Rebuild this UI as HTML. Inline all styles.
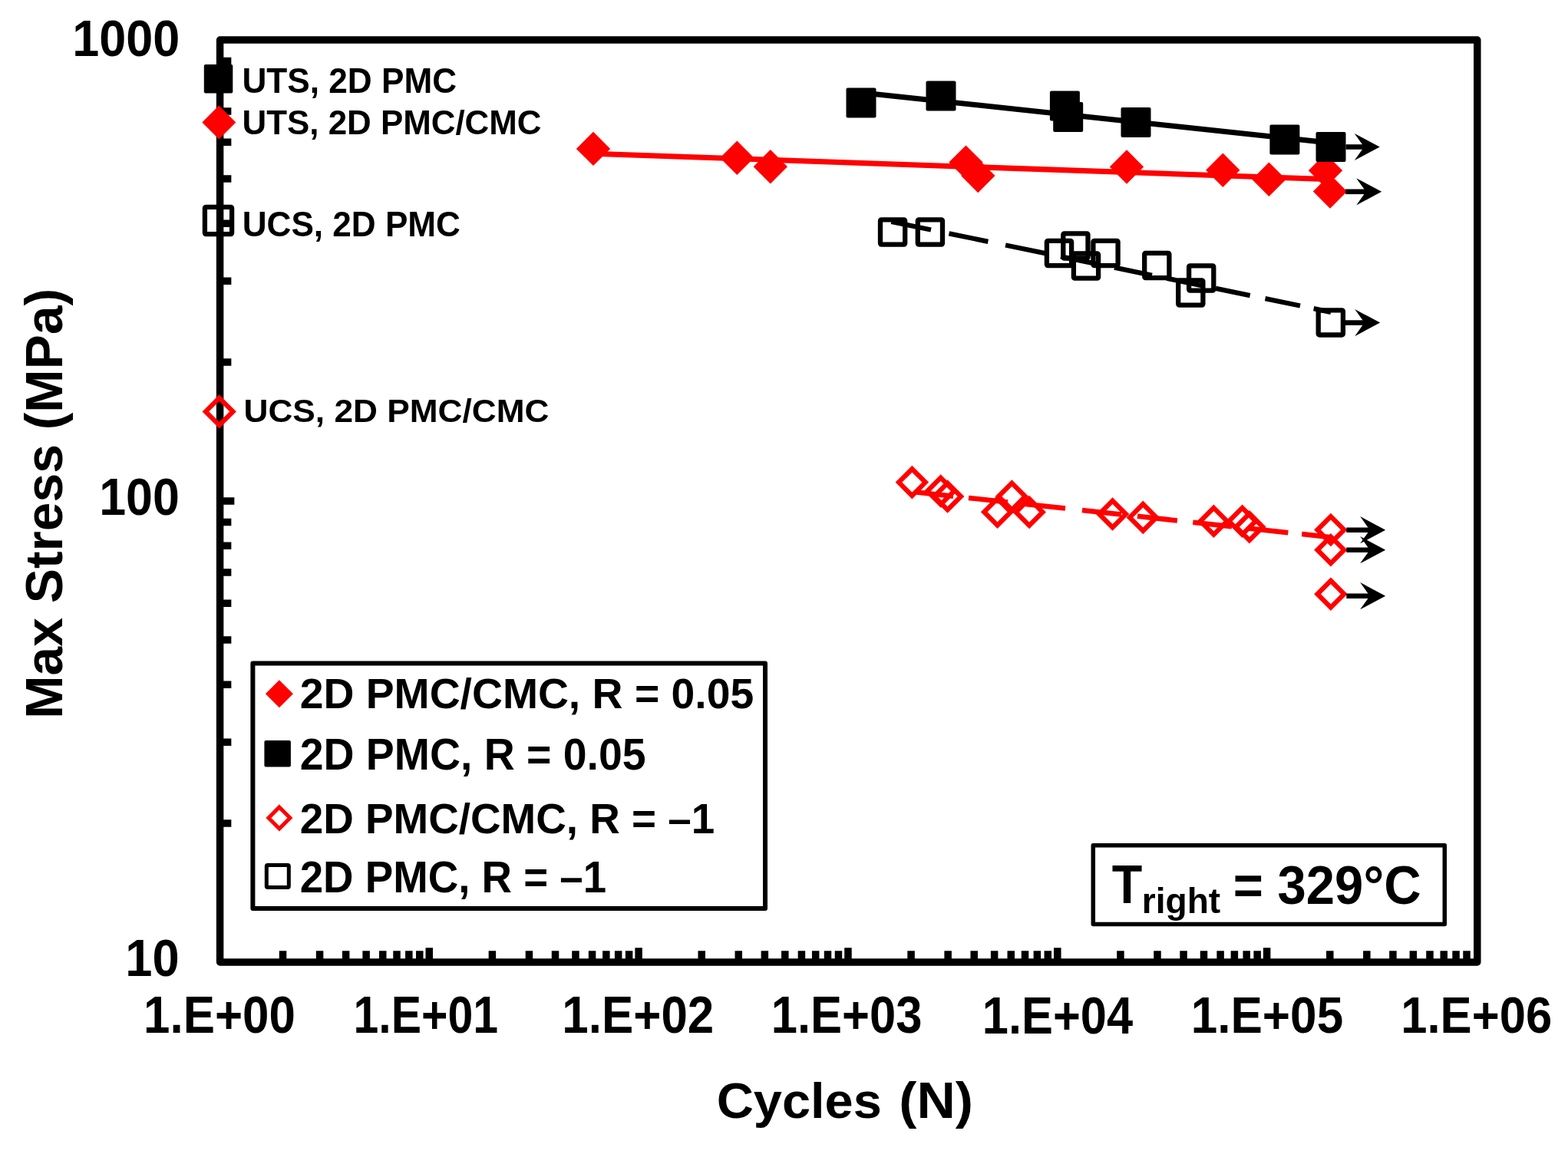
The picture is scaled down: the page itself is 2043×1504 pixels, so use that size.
<!DOCTYPE html>
<html><head><meta charset="utf-8"><title>S-N chart</title>
<style>
html,body{margin:0;padding:0;background:#fff;}
body{width:2043px;height:1504px;overflow:hidden;}
svg{display:block;}
</style></head><body>
<svg width="2043" height="1504" viewBox="0 0 2043 1504">
<rect width="2043" height="1504" fill="#fff"/>
<rect x="286.6" y="52.0" width="1638.20" height="1202.00" fill="none" stroke="#000" stroke-width="9.5" stroke-linejoin="round"/>
<path d="M286.6,1073.08H301.35M286.6,967.25H301.35M286.6,892.16H301.35M286.6,833.92H301.35M286.6,786.33H301.35M286.6,746.10H301.35M286.6,711.24H301.35M286.6,680.50H301.35M286.6,472.08H301.35M286.6,366.25H301.35M286.6,291.16H301.35M286.6,232.92H301.35M286.6,185.33H301.35M286.6,145.10H301.35M286.6,110.24H301.35M286.6,79.50H301.35M368.54,1254.0V1239.25M416.58,1254.0V1239.25M450.67,1254.0V1239.25M477.11,1254.0V1239.25M498.72,1254.0V1239.25M516.99,1254.0V1239.25M532.81,1254.0V1239.25M546.77,1254.0V1239.25M641.39,1254.0V1239.25M689.43,1254.0V1239.25M723.52,1254.0V1239.25M749.96,1254.0V1239.25M771.57,1254.0V1239.25M789.84,1254.0V1239.25M805.66,1254.0V1239.25M819.62,1254.0V1239.25M914.24,1254.0V1239.25M962.28,1254.0V1239.25M996.37,1254.0V1239.25M1022.81,1254.0V1239.25M1044.42,1254.0V1239.25M1062.69,1254.0V1239.25M1078.51,1254.0V1239.25M1092.47,1254.0V1239.25M1187.09,1254.0V1239.25M1235.13,1254.0V1239.25M1269.22,1254.0V1239.25M1295.66,1254.0V1239.25M1317.27,1254.0V1239.25M1335.54,1254.0V1239.25M1351.36,1254.0V1239.25M1365.32,1254.0V1239.25M1459.94,1254.0V1239.25M1507.98,1254.0V1239.25M1542.07,1254.0V1239.25M1568.51,1254.0V1239.25M1590.12,1254.0V1239.25M1608.39,1254.0V1239.25M1624.21,1254.0V1239.25M1638.17,1254.0V1239.25M1732.79,1254.0V1239.25M1780.83,1254.0V1239.25M1814.92,1254.0V1239.25M1841.36,1254.0V1239.25M1862.97,1254.0V1239.25M1881.24,1254.0V1239.25M1897.06,1254.0V1239.25M1911.02,1254.0V1239.25" stroke="#000" stroke-width="9.5" fill="none"/>
<path d="M286.6,653.00H305.35M559.25,1254.0V1235.25M832.10,1254.0V1235.25M1104.95,1254.0V1235.25M1377.80,1254.0V1235.25M1650.65,1254.0V1235.25" stroke="#000" stroke-width="9.5" fill="none"/>
<path d="M773,200.3L1734,233.8" stroke="#ff0000" stroke-width="7" fill="none"/>
<path d="M1122,120.7L1734,186.3" stroke="#000" stroke-width="7" fill="none"/>
<path d="M1161.3,288.8L1213.0,299.5M1236.5,304.3L1287.4,314.8M1310.1,319.5L1361.8,330.1M1382.0,334.3L1432.0,344.6M1452.0,348.7L1501.0,358.8M1520.0,362.7L1568.0,372.6M1584.0,375.9L1628.7,385.1M1648.5,389.2L1694.0,398.5M1711.7,402.2L1734.0,406.8" stroke="#000" stroke-width="6.3" fill="none"/>
<path d="M1192.0,641.3L1242.0,646.8M1262.0,648.9L1313.0,654.5M1336.0,657.0L1388.0,662.6M1410.0,665.0L1461.0,670.6M1482.0,672.8L1533.9,678.5M1554.3,680.7L1605.0,686.2M1626.0,688.5L1678.3,694.2M1696.2,696.1L1734.0,700.2" stroke="#ff0000" stroke-width="6.5" fill="none"/>
<rect x="1147.0" y="286.4" width="32.2" height="32.2" rx="1.5" fill="none" stroke="#000" stroke-width="6.3"/>
<rect x="1195.8" y="286.4" width="32.2" height="32.2" rx="1.5" fill="none" stroke="#000" stroke-width="6.3"/>
<rect x="1363.9" y="313.9" width="32.2" height="32.2" rx="1.5" fill="none" stroke="#000" stroke-width="6.3"/>
<rect x="1385.3" y="304.4" width="32.2" height="32.2" rx="1.5" fill="none" stroke="#000" stroke-width="6.3"/>
<rect x="1398.9" y="330.5" width="32.2" height="32.2" rx="1.5" fill="none" stroke="#000" stroke-width="6.3"/>
<rect x="1424.4" y="313.9" width="32.2" height="32.2" rx="1.5" fill="none" stroke="#000" stroke-width="6.3"/>
<rect x="1491.2" y="329.9" width="32.2" height="32.2" rx="1.5" fill="none" stroke="#000" stroke-width="6.3"/>
<rect x="1549.1" y="346.4" width="32.2" height="32.2" rx="1.5" fill="none" stroke="#000" stroke-width="6.3"/>
<rect x="1535.2" y="365.4" width="32.2" height="32.2" rx="1.5" fill="none" stroke="#000" stroke-width="6.3"/>
<rect x="1717.7" y="404.3" width="32.2" height="32.2" rx="1.5" fill="none" stroke="#000" stroke-width="6.3"/>
<path d="M1188.4,611.2L1205.8,628.6L1188.4,646.0L1171.0,628.6Z" fill="none" stroke="#ff0000" stroke-width="6.2" stroke-linejoin="miter"/>
<path d="M1225.7,622.6L1243.1,640.0L1225.7,657.4L1208.3,640.0Z" fill="none" stroke="#ff0000" stroke-width="6.2" stroke-linejoin="miter"/>
<path d="M1234.6,629.6L1252.0,647.0L1234.6,664.4L1217.2,647.0Z" fill="none" stroke="#ff0000" stroke-width="6.2" stroke-linejoin="miter"/>
<path d="M1299.6,649.9L1317.0,667.3L1299.6,684.7L1282.2,667.3Z" fill="none" stroke="#ff0000" stroke-width="6.2" stroke-linejoin="miter"/>
<path d="M1318.4,629.6L1335.8,647.0L1318.4,664.4L1301.0,647.0Z" fill="none" stroke="#ff0000" stroke-width="6.2" stroke-linejoin="miter"/>
<path d="M1341.1,650.1L1358.5,667.5L1341.1,684.9L1323.7,667.5Z" fill="none" stroke="#ff0000" stroke-width="6.2" stroke-linejoin="miter"/>
<path d="M1449.6,652.6L1467.0,670.0L1449.6,687.4L1432.2,670.0Z" fill="none" stroke="#ff0000" stroke-width="6.2" stroke-linejoin="miter"/>
<path d="M1489.3,657.0L1506.7,674.4L1489.3,691.8L1471.9,674.4Z" fill="none" stroke="#ff0000" stroke-width="6.2" stroke-linejoin="miter"/>
<path d="M1581.4,661.9L1598.8,679.3L1581.4,696.7L1564.0,679.3Z" fill="none" stroke="#ff0000" stroke-width="6.2" stroke-linejoin="miter"/>
<path d="M1618.6,661.9L1636.0,679.3L1618.6,696.7L1601.2,679.3Z" fill="none" stroke="#ff0000" stroke-width="6.2" stroke-linejoin="miter"/>
<path d="M1627.9,669.3L1645.3,686.7L1627.9,704.1L1610.5,686.7Z" fill="none" stroke="#ff0000" stroke-width="6.2" stroke-linejoin="miter"/>
<path d="M1733.9,673.1L1751.3,690.5L1733.9,707.9L1716.5,690.5Z" fill="none" stroke="#ff0000" stroke-width="6.2" stroke-linejoin="miter"/>
<path d="M1733.9,699.4L1751.3,716.8L1733.9,734.2L1716.5,716.8Z" fill="none" stroke="#ff0000" stroke-width="6.2" stroke-linejoin="miter"/>
<path d="M1733.9,756.8L1751.3,774.2L1733.9,791.6L1716.5,774.2Z" fill="none" stroke="#ff0000" stroke-width="6.2" stroke-linejoin="miter"/>
<path d="M773.0,171.7L795.2,193.9L773.0,216.1L750.8,193.9Z" fill="#ff0000"/>
<path d="M960.3,183.6L982.5,205.8L960.3,228.0L938.1,205.8Z" fill="#ff0000"/>
<path d="M1003.8,195.1L1026.0,217.3L1003.8,239.5L981.6,217.3Z" fill="#ff0000"/>
<path d="M1258.5,189.4L1280.7,211.6L1258.5,233.8L1236.3,211.6Z" fill="#ff0000"/>
<path d="M1274.3,206.8L1296.5,229.0L1274.3,251.2L1252.1,229.0Z" fill="#ff0000"/>
<path d="M1468.0,195.3L1490.2,217.5L1468.0,239.7L1445.8,217.5Z" fill="#ff0000"/>
<path d="M1593.3,199.5L1615.5,221.7L1593.3,243.9L1571.1,221.7Z" fill="#ff0000"/>
<path d="M1653.4,211.6L1675.6,233.8L1653.4,256.0L1631.2,233.8Z" fill="#ff0000"/>
<path d="M1727.0,200.1L1749.2,222.3L1727.0,244.5L1704.8,222.3Z" fill="#ff0000"/>
<path d="M1733.0,227.3L1755.2,249.5L1733.0,271.7L1710.8,249.5Z" fill="#ff0000"/>
<rect x="1102.5" y="114.5" width="39" height="39" rx="2" fill="#000"/>
<rect x="1206.5" y="105.4" width="39" height="39" rx="2" fill="#000"/>
<rect x="1367.9" y="118.5" width="39" height="39" rx="2" fill="#000"/>
<rect x="1372.2" y="133.0" width="39" height="39" rx="2" fill="#000"/>
<rect x="1460.5" y="140.1" width="39" height="39" rx="2" fill="#000"/>
<rect x="1654.4" y="162.6" width="39" height="39" rx="2" fill="#000"/>
<rect x="1714.5" y="172.1" width="39" height="39" rx="2" fill="#000"/>
<path d="M1753.5,191.5H1779.8" stroke="#000" stroke-width="6.6" fill="none"/><path d="M1797.8,191.5L1764.8,173.9L1777.3,191.5L1764.8,209.1Z" fill="#000"/>
<path d="M1753.1,249.8H1782.2" stroke="#000" stroke-width="6.6" fill="none"/><path d="M1800.2,249.8L1767.2,232.2L1779.7,249.8L1767.2,267.4Z" fill="#000"/>
<path d="M1752.8,420.6H1780.2" stroke="#000" stroke-width="6.6" fill="none"/><path d="M1798.2,420.6L1765.2,403.0L1777.7,420.6L1765.2,438.2Z" fill="#000"/>
<path d="M1754.3,690.7H1787.2" stroke="#000" stroke-width="6.6" fill="none"/><path d="M1805.2,690.7L1772.2,673.1L1784.7,690.7L1772.2,708.3Z" fill="#000"/>
<path d="M1754.3,716.7H1787.2" stroke="#000" stroke-width="6.6" fill="none"/><path d="M1805.2,716.7L1772.2,699.1L1784.7,716.7L1772.2,734.3Z" fill="#000"/>
<path d="M1754.3,776.7H1787.2" stroke="#000" stroke-width="6.6" fill="none"/><path d="M1805.2,776.7L1772.2,759.1L1784.7,776.7L1772.2,794.3Z" fill="#000"/>
<rect x="265.8" y="84.0" width="37.5" height="37.5" rx="2" fill="#000"/>
<path d="M285.3,137.4L307.3,159.4L285.3,181.4L263.3,159.4Z" fill="#ff0000"/>
<rect x="266.9" y="269.9" width="35.2" height="35.2" rx="1.5" fill="none" stroke="#000" stroke-width="6.3"/>
<path d="M285.7,518.6L303.5,536.4L285.7,554.2L267.9,536.4Z" fill="none" stroke="#ff0000" stroke-width="6.2" stroke-linejoin="miter"/>
<rect x="329.4" y="864.4" width="667.6" height="319.6" fill="#fff" stroke="#000" stroke-width="6" stroke-linejoin="round"/>
<path d="M363.9,886.3L381.9,904.3L363.9,922.3L345.9,904.3Z" fill="#ff0000"/>
<rect x="344.4" y="965.0" width="34.5" height="34.5" rx="2" fill="#000"/>
<path d="M363.9,1051.9L377.9,1065.9L363.9,1079.9L349.9,1065.9Z" fill="none" stroke="#ff0000" stroke-width="5" stroke-linejoin="miter"/>
<rect x="347.3" y="1127.4" width="29.0" height="29.0" rx="1.5" fill="none" stroke="#000" stroke-width="5"/>
<rect x="1424.3" y="1101.8" width="458" height="102.8" fill="#fff" stroke="#000" stroke-width="5.5" stroke-linejoin="round"/>
<text font-family="'Liberation Sans', Arial, sans-serif" font-weight="bold" font-size="62.93" transform="translate(94.32,73.30) scale(1,1.0559)">1000</text>
<text font-family="'Liberation Sans', Arial, sans-serif" font-weight="bold" font-size="62.73" transform="translate(129.21,671.48) scale(1,1.0823)">100</text>
<text font-family="'Liberation Sans', Arial, sans-serif" font-weight="bold" font-size="63.27" transform="translate(163.29,1272.18) scale(1,1.0730)">10</text>
<text font-family="'Liberation Sans', Arial, sans-serif" font-weight="bold" font-size="61.84" transform="translate(187.07,1346.16) scale(1,1.1135)">1.E+00</text>
<text font-family="'Liberation Sans', Arial, sans-serif" font-weight="bold" font-size="58.95" transform="translate(460.56,1346.16) scale(1,1.1681)">1.E+01</text>
<text font-family="'Liberation Sans', Arial, sans-serif" font-weight="bold" font-size="61.91" transform="translate(732.36,1346.16) scale(1,1.1123)">1.E+02</text>
<text font-family="'Liberation Sans', Arial, sans-serif" font-weight="bold" font-size="61.52" transform="translate(1004.69,1346.16) scale(1,1.1194)">1.E+03</text>
<text font-family="'Liberation Sans', Arial, sans-serif" font-weight="bold" font-size="61.41" transform="translate(1279.79,1346.87) scale(1,1.1080)">1.E+04</text>
<text font-family="'Liberation Sans', Arial, sans-serif" font-weight="bold" font-size="62.10" transform="translate(1551.66,1346.29) scale(1,1.0853)">1.E+05</text>
<text font-family="'Liberation Sans', Arial, sans-serif" font-weight="bold" font-size="61.58" transform="translate(1825.27,1346.29) scale(1,1.0944)">1.E+06</text>
<text font-family="'Liberation Sans', Arial, sans-serif" font-weight="bold" font-size="66.73" transform="translate(933.65,1456.68) scale(1,0.9832)">Cycles</text>
<text font-family="'Liberation Sans', Arial, sans-serif" font-weight="bold" font-size="69.72" transform="translate(1171.21,1457.33) scale(1,0.9662)">(N)</text>
<text font-family="'Liberation Sans', Arial, sans-serif" font-weight="bold" font-size="67.76" transform="translate(81.12,936.85) rotate(-90) scale(1,1.0011)">Max Stress (MPa)</text>
<text font-family="'Liberation Sans', Arial, sans-serif" font-weight="bold" font-size="44.16" transform="translate(315.48,120.98) scale(1,1.0298)">UTS, 2D PMC</text>
<text font-family="'Liberation Sans', Arial, sans-serif" font-weight="bold" font-size="43.89" transform="translate(315.50,175.01) scale(1,1.0218)">UTS, 2D PMC/CMC</text>
<text font-family="'Liberation Sans', Arial, sans-serif" font-weight="bold" font-size="44.13" transform="translate(315.69,307.89) scale(1,1.0457)">UCS, 2D PMC</text>
<text font-family="'Liberation Sans', Arial, sans-serif" font-weight="bold" font-size="44.23" transform="translate(317.48,550.35) scale(1,0.9688)">UCS, 2D PMC/CMC</text>
<text font-family="'Liberation Sans', Arial, sans-serif" font-weight="bold" font-size="55.30" transform="translate(390.69,922.90) scale(1,0.9946)">2D PMC/CMC, R = 0.05</text>
<text font-family="'Liberation Sans', Arial, sans-serif" font-weight="bold" font-size="55.40" transform="translate(390.69,1002.64) scale(1,1.0456)">2D PMC, R = 0.05</text>
<text font-family="'Liberation Sans', Arial, sans-serif" font-weight="bold" font-size="54.82" transform="translate(390.71,1085.94) scale(1,1.0109)">2D PMC/CMC, R = –1</text>
<text font-family="'Liberation Sans', Arial, sans-serif" font-weight="bold" font-size="54.67" transform="translate(390.71,1163.28) scale(1,1.0346)">2D PMC, R = –1</text>
<text font-family="'Liberation Sans', Arial, sans-serif" font-weight="bold" font-size="64.74" transform="translate(1448.75,1177.02) scale(1,1.0748)">T</text>
<text font-family="'Liberation Sans', Arial, sans-serif" font-weight="bold" font-size="46.15" transform="translate(1487.71,1190.44) scale(1,0.9843)">right</text>
<text font-family="'Liberation Sans', Arial, sans-serif" font-weight="bold" font-size="67.03" transform="translate(1606.78,1178.30) scale(1,1.0508)">= 329°C</text>
</svg>
</body></html>
